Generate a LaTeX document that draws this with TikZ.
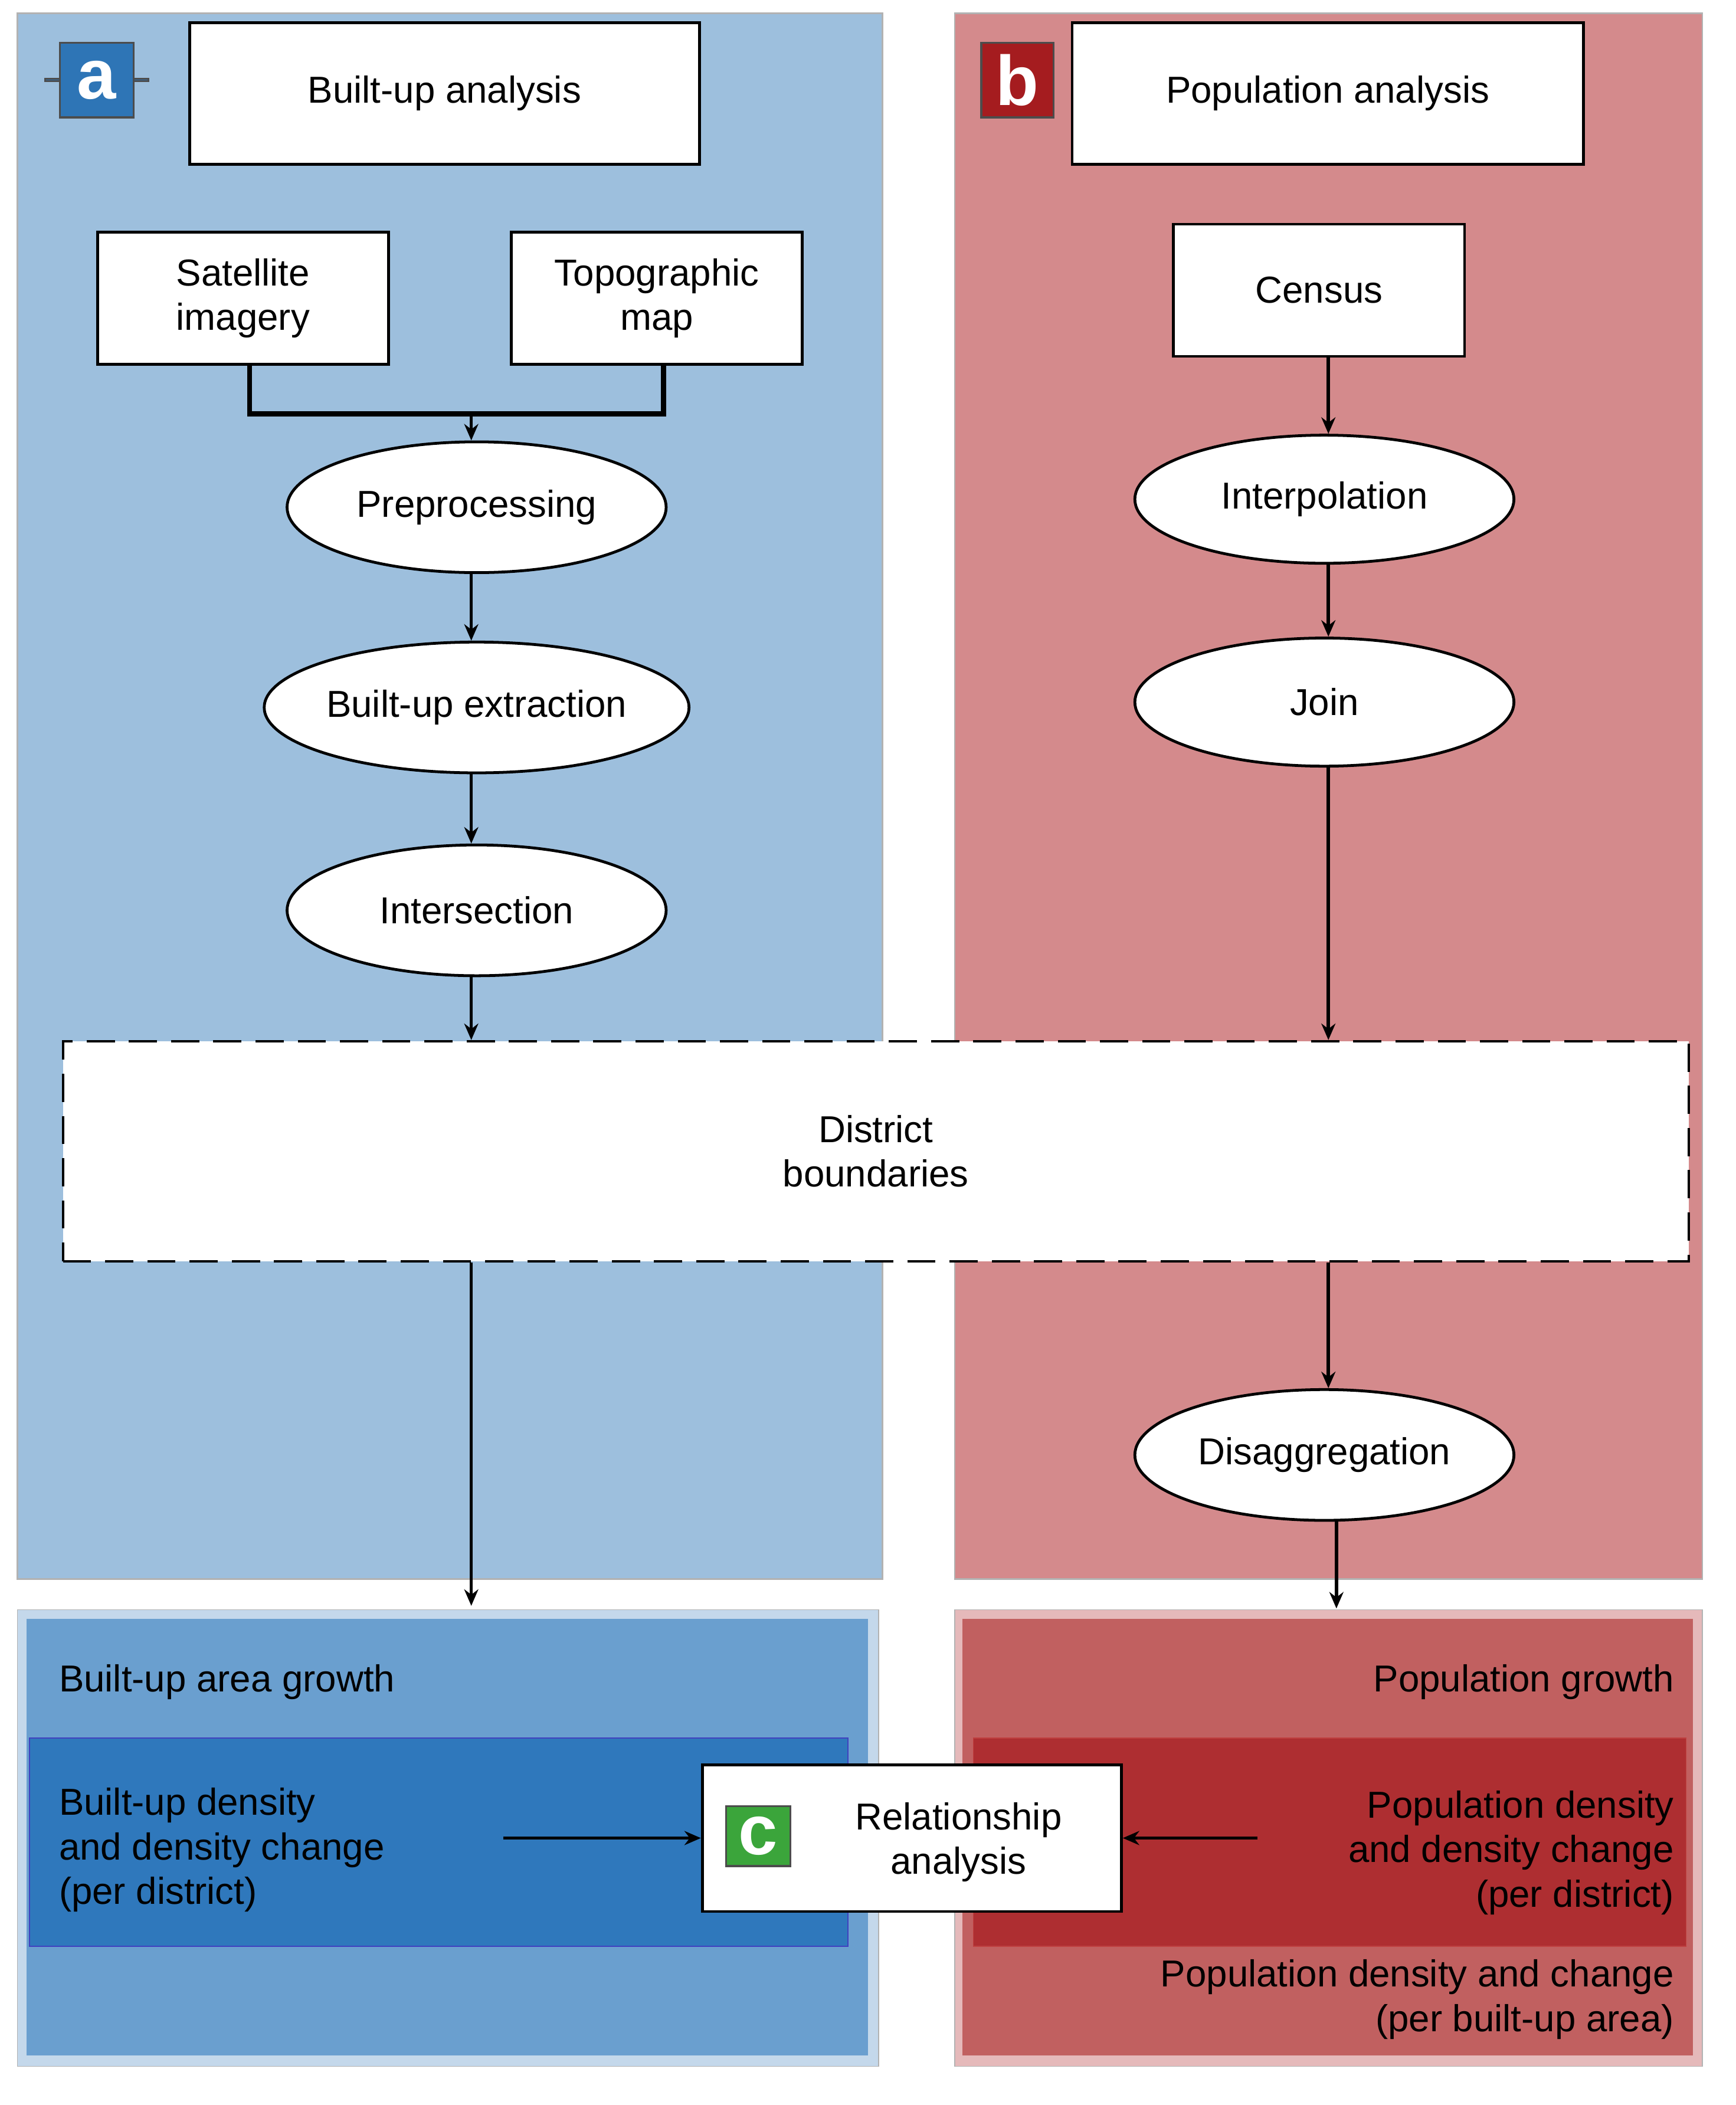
\documentclass[tikz,border=0pt]{standalone}
\usepackage{fontspec}
\setmainfont{Liberation Sans}
\usetikzlibrary{shapes.geometric,arrows.meta}
\definecolor{bluebg}{HTML}{9DBFDD}
\definecolor{redbg}{HTML}{D48A8C}
\definecolor{bluemid}{HTML}{6A9FCF}
\definecolor{bluedark}{HTML}{2F78BC}
\definecolor{redmid}{HTML}{C16060}
\definecolor{reddark}{HTML}{AE2E31}
\definecolor{abox}{HTML}{2E75B6}
\definecolor{bbox}{HTML}{A51C1F}
\definecolor{cbox}{HTML}{3BA53B}
\begin{document}
\begin{tikzpicture}[x=0.02cm,y=-0.02cm,
  every node/.style={font=\fontsize{16}{19}\selectfont},
  box/.style={draw,fill=white,line width=1.2pt,align=center,inner sep=0pt},
  ell/.style={draw,fill=white,ellipse,line width=1.2pt,inner sep=0pt},
  arr/.style={line width=1.4pt,-{Stealth[length=7pt,width=6pt]}},
  lab/.style={draw=black!70,line width=0.8pt,text=white,inner sep=0pt,font=\fontsize{30}{30}\selectfont\bfseries}]
\useasboundingbox (0,0) rectangle (1300,1577);
% panels
\fill[bluebg,draw=gray!60,line width=0.6pt] (13,10) rectangle (661,1183);
\fill[redbg,draw=gray!60,line width=0.6pt] (715,10) rectangle (1275,1183);
\fill[bluebg!60,draw=gray!60] (13,1206) rectangle (658,1548);
\fill[bluemid] (20,1213) rectangle (650,1540);
\fill[bluedark,draw=gray!50!blue] (22,1302) rectangle (635,1458);
\fill[redbg!60,draw=gray!60] (715,1206) rectangle (1275,1548);
\fill[redmid] (721,1213) rectangle (1268,1540);
\fill[reddark,draw=gray!50!red] (729,1302) rectangle (1263,1458);
% labels a b
\node[lab,fill=abox,minimum width=55\pgflinewidth] (la) at (72.5,60) {};
\node[lab,fill=abox,minimum width=1.1cm,minimum height=1.12cm] (la) at (72.5,60) {a};
\node[lab,fill=bbox,minimum width=1.08cm,minimum height=1.12cm] (lb) at (762,60) {b};
% titles
\node[box,minimum width=7.64cm,minimum height=2.12cm] (ta) at (333,70) {Built-up analysis};
\node[box,minimum width=7.66cm,minimum height=2.12cm] (tb) at (994.5,70) {Population analysis};
% inputs
\node[box,minimum width=4.36cm,minimum height=1.98cm] (sat) at (182,223.5) {Satellite\\imagery};
\node[box,minimum width=4.36cm,minimum height=1.98cm] (topo) at (492,223.5) {Topographic\\map};
\node[box,minimum width=4.36cm,minimum height=1.98cm] (cen) at (988,217.5) {Census};
% ellipses
\node[ell,minimum width=5.68cm,minimum height=1.96cm] (pre) at (357,380) {Preprocessing};
\node[ell,minimum width=6.0cm,minimum height=1.96cm] (bex) at (357,530) {Built-up extraction};
\node[ell,minimum width=5.68cm,minimum height=1.96cm] (int) at (357,682) {Intersection};
\node[ell,minimum width=5.68cm,minimum height=1.92cm] (ip) at (992,374) {Interpolation};
\node[ell,minimum width=5.68cm,minimum height=1.92cm] (join) at (992,526) {Join};
\node[ell,minimum width=5.68cm,minimum height=1.96cm] (dis) at (992,1090) {Disaggregation};
% district
\node[draw,fill=white,dashed,dash pattern=on 12pt off 6pt,line width=1pt,minimum width=24.36cm,minimum height=3.3cm,align=center,inner sep=0pt] (db) at (656,862.5) {District\\boundaries};
% relationship
\node[box,minimum width=6.28cm,minimum height=2.2cm] (rel) at (683,1377) {};
\node[align=center] (reltxt) at (718,1380) {Relationship\\analysis};
\node[lab,fill=cbox,minimum width=0.96cm,minimum height=0.9cm] (lc) at (568,1375.5) {c};
% connectors
\coordinate (j) at (353,310);
\draw[line width=2.2pt] (sat.south -| 187,0) |- (j) -| (topo.south -| 497,0);
\draw[arr] (j) -- (pre.north -| j);
\draw[arr] (pre.south -| 353,0) -- (bex.north -| 353,0);
\draw[arr] (bex.south -| 353,0) -- (int.north -| 353,0);
\draw[arr] (int.south -| 353,0) -- (db.north -| 353,0);
\coordinate (bl) at (353,1203);
\draw[arr] (db.south -| 353,0) -- (bl);
\draw[arr] (cen.south -| 995,0) -- (ip.north -| 995,0);
\draw[arr] (ip.south -| 995,0) -- (join.north -| 995,0);
\draw[arr] (join.south -| 995,0) -- (db.north -| 995,0);
\draw[arr] (db.south -| 995,0) -- (dis.north -| 995,0);
\coordinate (br) at (1001,1205);
\draw[arr] (dis.south -| 1001,0) -- (br);
\coordinate (s1) at (377,1377);
\coordinate (s2) at (942,1377);
\draw[arr] (s1) -- (rel.west);
\draw[arr] (s2) -- (rel.east);
% texts
\node[anchor=west] (t1) at (38,1260) {Built-up area growth};
\node[anchor=west,align=left] (t2) at (38,1386) {Built-up density\\and density change\\(per district)};
\node[anchor=east] (t3) at (1260,1260) {Population growth};
\node[anchor=east,align=right] (t4) at (1260,1388) {Population density\\and density change\\(per district)};
\node[anchor=east,align=right] (t5) at (1260,1498) {Population density and change\\(per built-up area)};
\end{tikzpicture}
\end{document}
